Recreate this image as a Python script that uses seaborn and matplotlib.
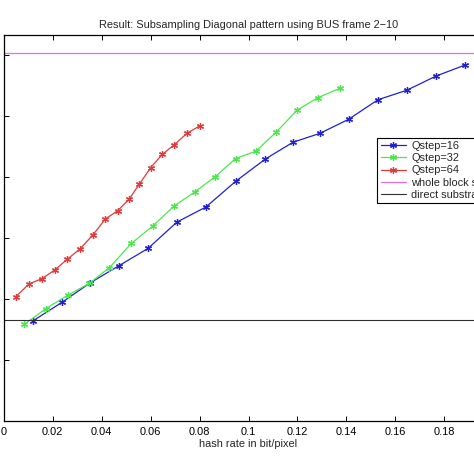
import matplotlib
matplotlib.use("Agg")
import matplotlib.pyplot as plt
import seaborn as sns
import numpy as np

# ---- data ----
x_q16 = [0.0118, 0.0237, 0.0352, 0.0472, 0.0589, 0.0708, 0.0826, 0.0949,
         0.1069, 0.1182, 0.1292, 0.1409, 0.1529, 0.1646, 0.1767, 0.1885]
y_q16 = [1.639, 1.943, 2.262, 2.549, 2.828, 3.262, 3.508, 3.934,
         4.295, 4.570, 4.716, 4.946, 5.267, 5.421, 5.656, 5.836]

x_q32 = [0.0084, 0.0173, 0.0261, 0.0350, 0.0432, 0.0521, 0.0609, 0.0696,
         0.0781, 0.0864, 0.0947, 0.1030, 0.1114, 0.1198, 0.1283, 0.1373]
y_q32 = [1.585, 1.844, 2.061, 2.257, 2.516, 2.910, 3.197, 3.525,
         3.757, 4.005, 4.303, 4.423, 4.738, 5.093, 5.300, 5.454]

x_q64 = [0.0049, 0.0104, 0.0156, 0.0208, 0.0260, 0.0312, 0.0365, 0.0415,
         0.0465, 0.0512, 0.0554, 0.0600, 0.0648, 0.0697, 0.0750, 0.0800]
y_q64 = [2.038, 2.249, 2.333, 2.475, 2.652, 2.823, 3.054, 3.311,
         3.446, 3.636, 3.882, 4.152, 4.372, 4.530, 4.721, 4.836]

whole_block_level = 6.03
direct_sub_level = 1.656

series_labels = ["Qstep=16", "Qstep=32", "Qstep=64",
                 "whole block subsampling", "direct substraction"]
x_ticks = [0, 0.02, 0.04, 0.06, 0.08, 0.1, 0.12, 0.14, 0.16, 0.18]
x_ticklabels = ["0", "0.02", "0.04", "0.06", "0.08", "0.1", "0.12",
                "0.14", "0.16", "0.18"]
y_ticks = [0, 1, 2, 3, 4, 5, 6]

title = "Result: Subsampling Diagonal pattern using BUS frame 2\u221210"
xlabel = "hash rate in bit/pixel"

# ---- style ----
sns.set_style("white")
plt.rcParams["font.family"] = ["Liberation Sans", "DejaVu Sans"]
plt.rcParams["axes.unicode_minus"] = True

fig = plt.figure(figsize=(4.74, 4.74), dpi=100)
W = H = 474.0
left_px, right_px, top_px, bottom_px = 3.75, 3.75 + 0.2 * 2447.5, 35.0, 421.0
ax = fig.add_axes([left_px / W, 1 - bottom_px / H,
                   (right_px - left_px) / W, (bottom_px - top_px) / H])

star = (6, 2, 0)
common = dict(marker=star, markersize=5.0, linewidth=0.9, markeredgewidth=0.9,
              sort=False, ax=ax)
sns.lineplot(x=x_q16, y=y_q16, color="#2020d0", label=series_labels[0],
             markeredgecolor="#2020d0", **common)
sns.lineplot(x=x_q32, y=y_q32, color="#4ee64e", label=series_labels[1],
             markeredgecolor="#4ee64e", **common)
sns.lineplot(x=x_q64, y=y_q64, color="#e03a3a", label=series_labels[2],
             markeredgecolor="#e03a3a", **common)
ax.axhline(whole_block_level, color="#e070e0", linewidth=0.9,
           label=series_labels[3])
ax.axhline(direct_sub_level, color="#303030", linewidth=0.8,
           label=series_labels[4])

ax.set_xlim(0, 0.2)
ax.set_ylim(0, 6.328)
ax.set_xticks(x_ticks)
ax.set_xticklabels(x_ticklabels)
ax.set_yticks(y_ticks)
ax.set_yticklabels([])
ax.tick_params(direction="in", length=3.5, width=0.7, top=True, right=True,
               bottom=True, left=True, labelsize=7.9, pad=4, colors="black")
for s in ax.spines.values():
    s.set_visible(True)
    s.set_color("black")
    s.set_linewidth(0.9)
ax.grid(False)
ax.set_title(title, fontsize=7.9, pad=5)
ax.set_xlabel(xlabel, fontsize=7.9, labelpad=2)
ax.set_ylabel("")

leg = ax.legend(loc="upper left", bbox_to_anchor=(377.3 / W, 1 - 137.7 / H),
                bbox_transform=fig.transFigure, borderaxespad=0,
                fontsize=7.9, frameon=True, fancybox=False, edgecolor="black",
                framealpha=1, handlelength=2.3, handletextpad=0.5,
                labelspacing=0.2, borderpad=0.3)
leg.get_frame().set_linewidth(0.8)

fig.savefig("out.png", dpi=100)
